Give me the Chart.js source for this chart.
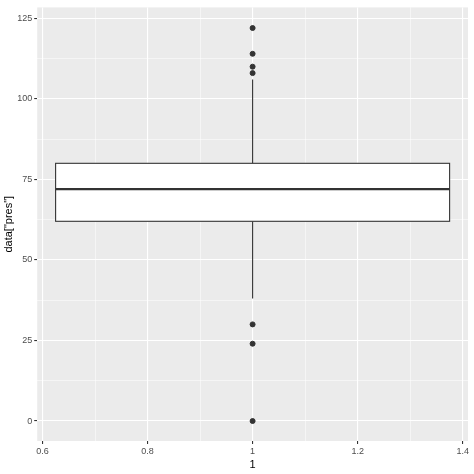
<!DOCTYPE html>
<html>
<head>
<meta charset="utf-8">
<script src="https://cdn.jsdelivr.net/npm/chart.js@4"></script>
<style>
  body { margin: 0; background: #fff; }
  #wrap { width: 474px; height: 474px; }
</style>
</head>
<body>
<div id="wrap"><canvas id="box"></canvas></div>
<script>
// box statistics
let boxX = [1];
let boxQ1 = [62];
let boxMedian = [72];
let boxQ3 = [80];
let whiskerLow = [38];
let whiskerHigh = [106];
let outlierY = [122, 114, 110, 108, 30, 24, 0];
let xTicks = [0.6, 0.8, 1.0, 1.2, 1.4];
let yTicks = [0, 25, 50, 75, 100, 125];

function isMajor(v, list) {
	return list.some(t => Math.abs(t - v) < 1e-6);
}

// draws the box and whiskers with the chart's own scales
const boxPlugin = {
	id: 'boxPlugin',
	beforeDatasetsDraw(chart) {
		let ctx = chart.ctx;
		let x = chart.scales.x, y = chart.scales.y;
		for (let i = 0; i < boxX.length; i++) {
			let cx = x.getPixelForValue(boxX[i]);
			let left = x.getPixelForValue(boxX[i] - 0.375);
			let right = x.getPixelForValue(boxX[i] + 0.375);
			ctx.save();
			ctx.strokeStyle = '#333333';
			ctx.lineWidth = 1.1;
			ctx.beginPath();
			ctx.moveTo(cx, y.getPixelForValue(boxQ3[i]));
			ctx.lineTo(cx, y.getPixelForValue(whiskerHigh[i]));
			ctx.moveTo(cx, y.getPixelForValue(boxQ1[i]));
			ctx.lineTo(cx, y.getPixelForValue(whiskerLow[i]));
			ctx.stroke();
			let top = y.getPixelForValue(boxQ3[i]);
			let bottom = y.getPixelForValue(boxQ1[i]);
			ctx.fillStyle = '#ffffff';
			ctx.fillRect(left, top, right - left, bottom - top);
			ctx.strokeRect(left, top, right - left, bottom - top);
			ctx.lineWidth = 2.2;
			ctx.beginPath();
			let my = y.getPixelForValue(boxMedian[i]);
			ctx.moveTo(left, my);
			ctx.lineTo(right, my);
			ctx.stroke();
			ctx.restore();
		}
	}
};

const bgPlugin = {
	id: 'bgPlugin',
	beforeDraw(chart) {
		let a = chart.chartArea;
		chart.ctx.fillStyle = '#EBEBEB';
		chart.ctx.fillRect(a.left, a.top, a.right - a.left, a.bottom - a.top);
	}
};

let gridStyle = (list) => ({
	color: '#ffffff',
	lineWidth: c => isMajor(c.tick.value, list) ? 1.1 : 0.5,
	drawTicks: true,
	tickLength: 3,
	tickColor: c => isMajor(c.tick.value, list) ? '#333333' : 'rgba(0,0,0,0)'
});

new Chart(document.getElementById('box'), {
	type: 'scatter',
	data: {
		datasets: [{
			data: outlierY.map(v => ({ x: 1, y: v })),
			backgroundColor: '#333333',
			borderColor: '#333333',
			pointRadius: 2.5
		}]
	},
	options: {
		responsive: true,
		maintainAspectRatio: false,
		animation: false,
		layout: { padding: { top: 4, right: 6, left: 2, bottom: 2 } },
		plugins: { legend: { display: false }, tooltip: { enabled: false } },
		scales: {
			x: {
				type: 'linear', min: 0.59, max: 1.41,
				afterBuildTicks: s => { s.ticks = [0.6,0.7,0.8,0.9,1.0,1.1,1.2,1.3,1.4].map(v => ({ value: v })); },
				grid: gridStyle(xTicks),
				border: { display: false },
				ticks: {
					color: '#4D4D4D', font: { family: 'Liberation Sans', size: 9 }, padding: 2,
					callback: v => isMajor(v, xTicks) ? String(v) : ''
				},
				title: { display: true, text: '1', color: '#000', font: { family: 'Liberation Sans', size: 11 }, padding: 0 }
			},
			y: {
				type: 'linear', min: -6.2, max: 128.4,
				afterBuildTicks: s => { let t = []; for (let v = 0; v <= 125; v += 12.5) t.push({ value: v }); s.ticks = t; },
				grid: gridStyle(yTicks),
				border: { display: false },
				ticks: {
					color: '#4D4D4D', font: { family: 'Liberation Sans', size: 9 }, padding: 2,
					callback: v => isMajor(v, yTicks) ? String(v) : ''
				},
				title: { display: true, text: 'data["pres"]', color: '#000', font: { family: 'Liberation Sans', size: 11 }, padding: 0 }
			}
		}
	},
	plugins: [bgPlugin, boxPlugin]
});
</script>
</body>
</html>
